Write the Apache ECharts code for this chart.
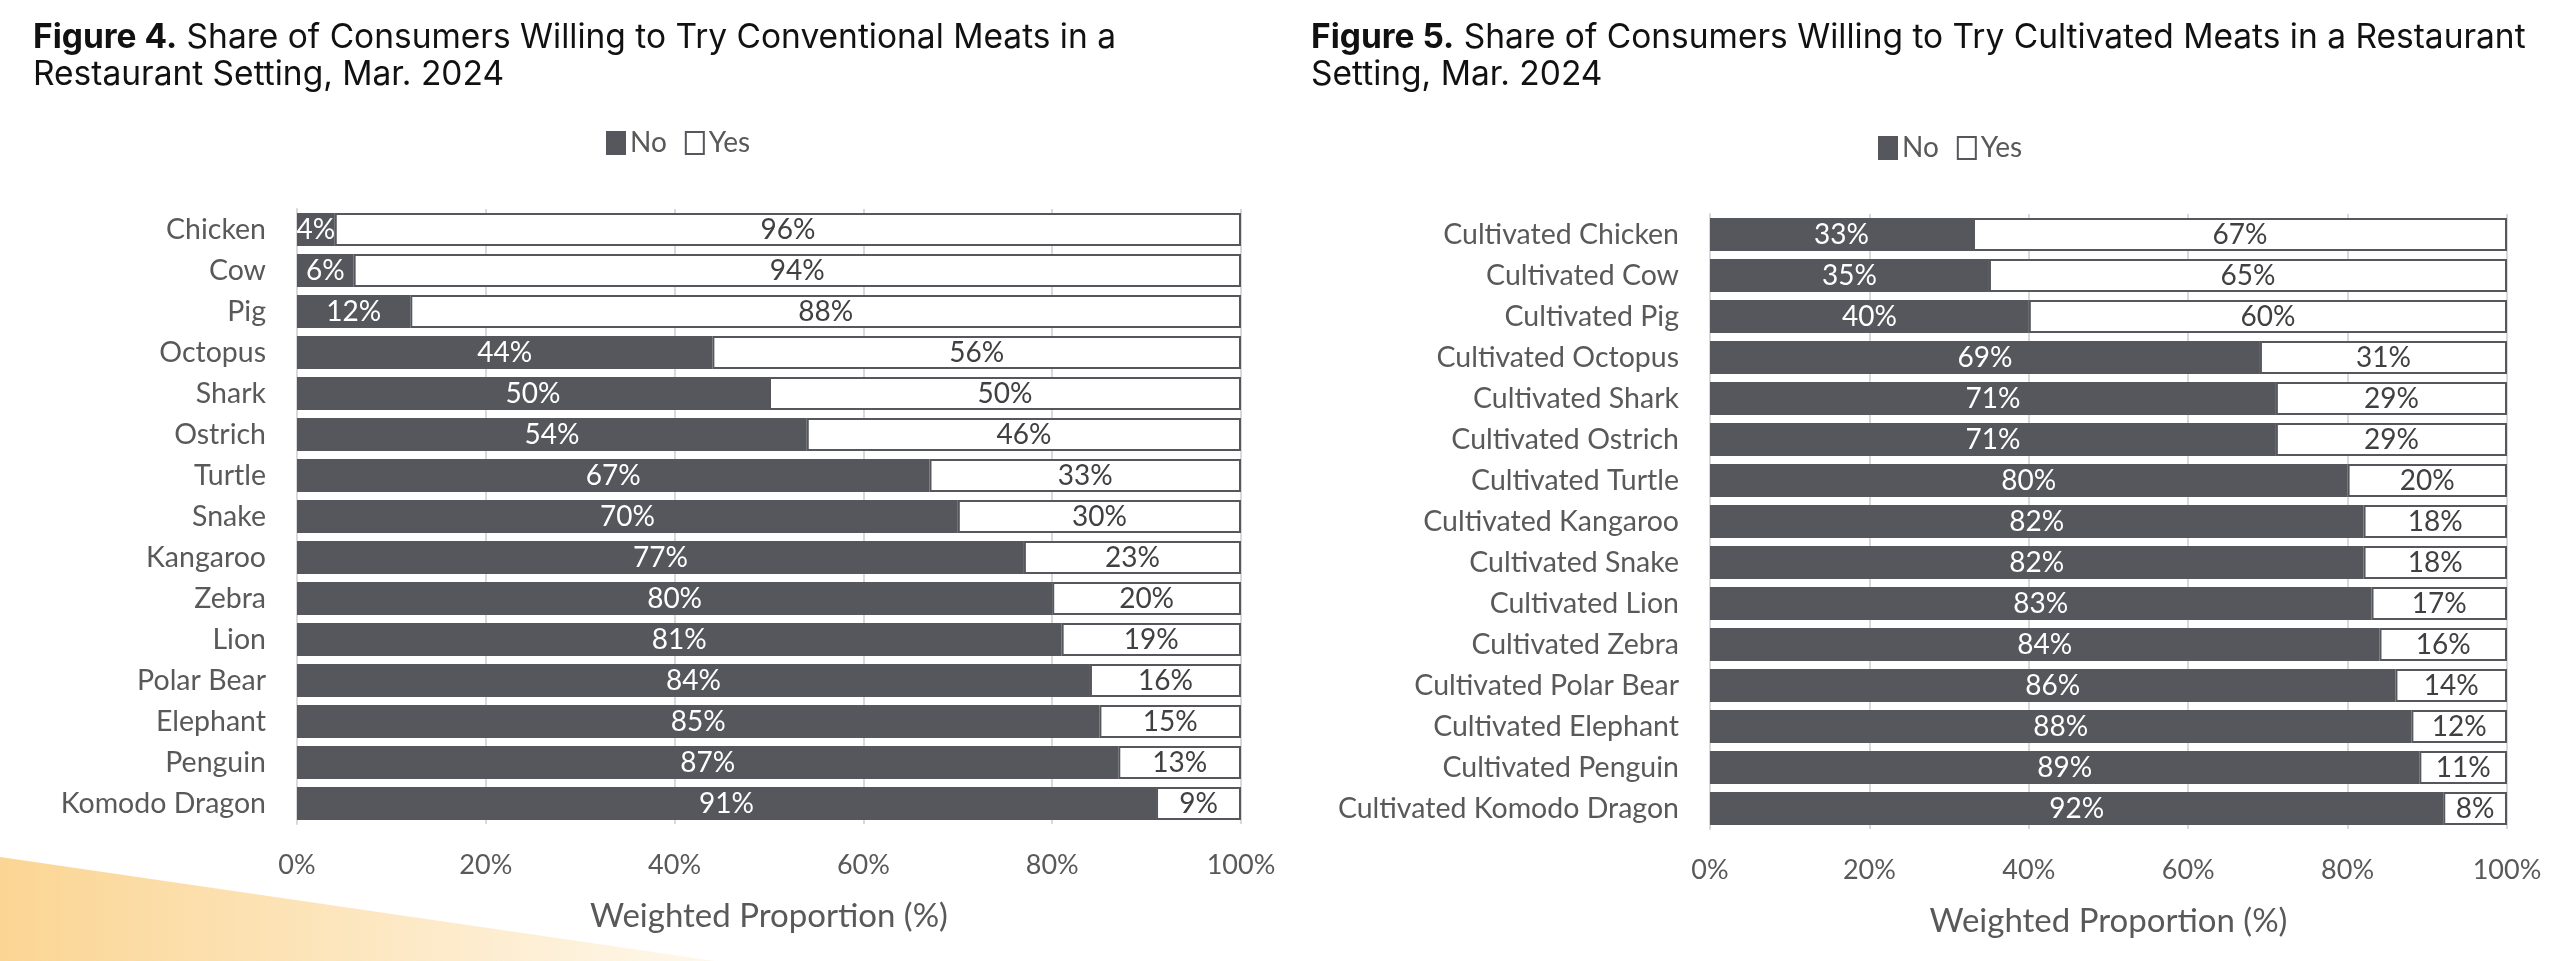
<!DOCTYPE html>
<html>
<head>
<meta charset="utf-8">
<title>Figure 4 and 5</title>
<script src="https://cdn.jsdelivr.net/npm/echarts@6/dist/echarts.min.js"></script>
<style>
  html, body { margin: 0; padding: 0; background: #fff; }
  #chart { width: 2560px; height: 961px; }
</style>
</head>
<body>
<div id="chart"></div>
<script>
// figure 4 - conventional meats
var conventionalNames = ['Chicken', 'Cow', 'Pig', 'Octopus', 'Shark', 'Ostrich', 'Turtle', 'Snake',
  'Kangaroo', 'Zebra', 'Lion', 'Polar Bear', 'Elephant', 'Penguin', 'Komodo Dragon'];
var conventionalNo = [4, 6, 12, 44, 50, 54, 67, 70, 77, 80, 81, 84, 85, 87, 91];
var conventionalYes = [96, 94, 88, 56, 50, 46, 33, 30, 23, 20, 19, 16, 15, 13, 9];

// figure 5 - cultivated meats
var cultivatedNames = ['Cultivated Chicken', 'Cultivated Cow', 'Cultivated Pig', 'Cultivated Octopus',
  'Cultivated Shark', 'Cultivated Ostrich', 'Cultivated Turtle', 'Cultivated Kangaroo', 'Cultivated Snake',
  'Cultivated Lion', 'Cultivated Zebra', 'Cultivated Polar Bear', 'Cultivated Elephant',
  'Cultivated Penguin', 'Cultivated Komodo Dragon'];
var cultivatedNo = [33, 35, 40, 69, 71, 71, 80, 82, 82, 83, 84, 86, 88, 89, 92];
var cultivatedYes = [67, 65, 60, 31, 29, 29, 20, 18, 18, 17, 16, 14, 12, 11, 8];

var xTicks = [0, 20, 40, 60, 80, 100];

var dark = '#55575c';
var textGrey = '#595959';
var font = 'Lato';

var myChart = echarts.init(document.getElementById('chart'));

function makeTitle(left, bold, rest) {
  return {
    left: left,
    top: 19,
    padding: 0,
    text: '{b|' + bold + '}' + rest,
    textStyle: {
      fontFamily: 'Inter',
      fontSize: 33.5,
      lineHeight: 37,
      color: '#111',
      fontWeight: 'normal',
      rich: {
        b: { fontFamily: 'Inter', fontSize: 33.5, fontWeight: 'bold', color: '#111', lineHeight: 37 }
      }
    }
  };
}

function xAxisFor(idx) {
  return {
    gridIndex: idx,
    type: 'value',
    min: 0,
    max: 100,
    interval: 20,
    name: 'Weighted Proportion (%)',
    nameLocation: 'middle',
    nameGap: 76,
    nameTextStyle: { fontFamily: font, fontSize: 33, color: textGrey },
    axisLine: { show: false },
    axisTick: { show: false },
    axisLabel: {
      margin: 28,
      fontFamily: font,
      fontSize: 27,
      color: textGrey,
      formatter: function (v) { return xTicks.indexOf(v) >= 0 ? v + '%' : ''; }
    },
    splitLine: { show: true, lineStyle: { color: '#d9d9d9', width: 2 } }
  };
}

function yAxisFor(idx, names) {
  return {
    gridIndex: idx,
    type: 'category',
    inverse: true,
    data: names,
    axisLine: { show: true, lineStyle: { color: '#d9d9d9', width: 2 } },
    axisTick: { show: false },
    axisLabel: { margin: 31, fontFamily: font, fontSize: 28.5, color: textGrey }
  };
}

function barSeries(name, data, idx, fill, labelColor) {
  return {
    name: name,
    type: 'bar',
    stack: 'total' + idx,
    xAxisIndex: idx,
    yAxisIndex: idx,
    barWidth: 33,
    data: data,
    itemStyle: { color: fill, borderColor: dark, borderWidth: 2 },
    label: {
      show: true,
      position: 'inside',
      fontFamily: font,
      fontSize: 28,
      color: labelColor,
      formatter: '{c}%'
    },
    emphasis: { disabled: true }
  };
}

var legendText = { fontFamily: font, fontSize: 28, color: textGrey };

myChart.setOption({
  backgroundColor: '#fff',
  animation: false,
  title: [
    makeTitle(33, 'Figure 4.', ' Share of Consumers Willing to Try Conventional Meats in a\nRestaurant Setting, Mar. 2024'),
    makeTitle(1311, 'Figure 5.', ' Share of Consumers Willing to Try Cultivated Meats in a Restaurant\nSetting, Mar. 2024')
  ],
  legend: [
    { left: 601, top: 124, icon: 'rect', itemWidth: 18, itemHeight: 22, itemGap: 18,
      data: ['No', 'Yes'], textStyle: legendText, selectedMode: false },
    { left: 1873, top: 129, icon: 'rect', itemWidth: 18, itemHeight: 22, itemGap: 18,
      data: ['No', 'Yes'], textStyle: legendText, selectedMode: false }
  ],
  grid: [
    { left: 297, width: 944, top: 209, height: 615 },
    { left: 1710, width: 797, top: 214, height: 615 }
  ],
  xAxis: [xAxisFor(0), xAxisFor(1)],
  yAxis: [yAxisFor(0, conventionalNames), yAxisFor(1, cultivatedNames)],
  series: [
    barSeries('No', conventionalNo, 0, dark, '#fff'),
    barSeries('Yes', conventionalYes, 0, '#fff', '#404040'),
    barSeries('No', cultivatedNo, 1, dark, '#fff'),
    barSeries('Yes', cultivatedYes, 1, '#fff', '#404040')
  ],
  // yellow decoration in the bottom left corner
  graphic: [{
    type: 'polygon',
    z: -10,
    silent: true,
    shape: { points: [[0, 857], [715, 961], [0, 961]] },
    style: {
      fill: new echarts.graphic.LinearGradient(0, 0, 1, 0, [
        { offset: 0, color: '#fbd593' },
        { offset: 1, color: '#fef8ec' }
      ])
    }
  }]
});
</script>
</body>
</html>
